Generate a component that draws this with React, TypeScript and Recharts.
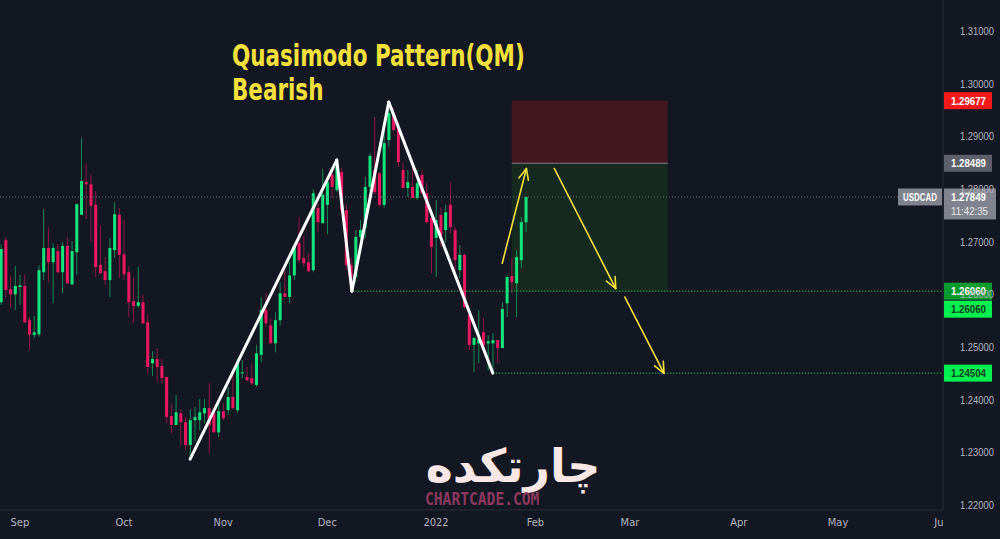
import React from "react";
import {
  ComposedChart,
  Bar,
  XAxis,
  YAxis,
  ReferenceLine,
  ReferenceArea,
} from "recharts";

const BG = "#131722";
const UP = "#12e57d";
const DOWN = "#ec1761";
const YELLOW = "#f6e13c";
const AXIS_TEXT = "#b2b5be";
const SANS = "'Liberation Sans', Arial, sans-serif";
const COND = "'DejaVu Sans Condensed', 'DejaVu Sans', sans-serif";

// daily candles, bar index -4 (26 Aug 2021) .. 107 (28 Jan 2022)
const FIRST_INDEX = -4;
const opens = [
  1.2585, 1.2703, 1.2610, 1.2600, 1.2614, 1.2616, 1.2551, 1.2523, 1.2524, 1.2642,
  1.2688, 1.2661, 1.2682, 1.2642, 1.2692, 1.2619, 1.2680, 1.2751, 1.2813, 1.2809,
  1.2770, 1.2656, 1.2644, 1.2627, 1.2684, 1.2751, 1.2676, 1.2642, 1.2587, 1.2578,
  1.2585, 1.2547, 1.2469, 1.2477, 1.2464, 1.2443, 1.2369, 1.2352, 1.2374, 1.2357,
  1.2314, 1.2361, 1.2361, 1.2374, 1.2384, 1.2374, 1.2338, 1.2378, 1.2380, 1.2405,
  1.2380, 1.2450, 1.2443, 1.2441, 1.2428, 1.2485, 1.2570, 1.2541, 1.2507, 1.2551,
  1.2602, 1.2595, 1.2636, 1.2697, 1.2669, 1.2661, 1.2646, 1.2764, 1.2735, 1.2770,
  1.2827, 1.2798, 1.2832, 1.2760, 1.2656, 1.2633, 1.2709, 1.2726, 1.2804, 1.2836,
  1.2830, 1.2770, 1.2893, 1.2944, 1.2918, 1.2836, 1.2802, 1.2804, 1.2783, 1.2827,
  1.2792, 1.2745, 1.2707, 1.2751, 1.2722, 1.2770, 1.2722, 1.2646, 1.2675, 1.2561,
  1.2504, 1.2507, 1.2528, 1.2507, 1.2507, 1.2513, 1.2498, 1.2583, 1.2635, 1.2621,
  1.2665, 1.2737,
];
const highs = [
  1.2695, 1.2709, 1.2635, 1.2654, 1.2637, 1.2638, 1.2557, 1.2559, 1.2655, 1.2762,
  1.2728, 1.2697, 1.2695, 1.2699, 1.2709, 1.2701, 1.2773, 1.2897, 1.2849, 1.2827,
  1.2796, 1.2730, 1.2671, 1.2707, 1.2775, 1.2764, 1.2741, 1.2654, 1.2631, 1.2652,
  1.2599, 1.2562, 1.2492, 1.2498, 1.2477, 1.2443, 1.2393, 1.2409, 1.2382, 1.2367,
  1.2382, 1.2386, 1.2401, 1.2401, 1.2431, 1.2386, 1.2391, 1.2393, 1.2424, 1.2456,
  1.2479, 1.2475, 1.2462, 1.2469, 1.2504, 1.2595, 1.2604, 1.2555, 1.2566, 1.2623,
  1.2646, 1.2661, 1.2697, 1.2747, 1.2711, 1.2678, 1.2800, 1.2773, 1.2838, 1.2821,
  1.2836, 1.2855, 1.2840, 1.2770, 1.2669, 1.2722, 1.2741, 1.2823, 1.2868, 1.2937,
  1.2832, 1.2927, 1.2965, 1.2954, 1.2927, 1.2851, 1.2836, 1.2845, 1.2836, 1.2836,
  1.2811, 1.2751, 1.2779, 1.2766, 1.2770, 1.2813, 1.2728, 1.2694, 1.2678, 1.2570,
  1.2519, 1.2570, 1.2555, 1.2522, 1.2526, 1.2513, 1.2585, 1.2636, 1.2669, 1.2684,
  1.2747, 1.2785,
];
const lows = [
  1.2580, 1.2593, 1.2576, 1.2570, 1.2580, 1.2545, 1.2494, 1.2517, 1.2519, 1.2627,
  1.2623, 1.2583, 1.2640, 1.2602, 1.2621, 1.2618, 1.2637, 1.2751, 1.2743, 1.2699,
  1.2633, 1.2640, 1.2618, 1.2595, 1.2669, 1.2631, 1.2627, 1.2557, 1.2545, 1.2574,
  1.2543, 1.2450, 1.2445, 1.2433, 1.2431, 1.2355, 1.2336, 1.2352, 1.2312, 1.2304,
  1.2287, 1.2321, 1.2342, 1.2355, 1.2298, 1.2338, 1.2329, 1.2361, 1.2371, 1.2382,
  1.2376, 1.2441, 1.2435, 1.2428, 1.2424, 1.2471, 1.2538, 1.2507, 1.2490, 1.2541,
  1.2595, 1.2583, 1.2627, 1.2659, 1.2652, 1.2642, 1.2642, 1.2718, 1.2735, 1.2714,
  1.2783, 1.2794, 1.2751, 1.2646, 1.2604, 1.2623, 1.2703, 1.2707, 1.2794, 1.2790,
  1.2766, 1.2764, 1.2880, 1.2908, 1.2842, 1.2802, 1.2785, 1.2783, 1.2779, 1.2792,
  1.2735, 1.2640, 1.2633, 1.2690, 1.2699, 1.2716, 1.2640, 1.2631, 1.2574, 1.2494,
  1.2452, 1.2469, 1.2488, 1.2456, 1.2450, 1.2469, 1.2498, 1.2557, 1.2602, 1.2557,
  1.2650, 1.2718,
];
const closes = [
  1.2686, 1.2608, 1.2600, 1.2616, 1.2617, 1.2547, 1.2524, 1.2528, 1.2646, 1.2688,
  1.2661, 1.2688, 1.2642, 1.2692, 1.2621, 1.2682, 1.2771, 1.2815, 1.2809, 1.2768,
  1.2652, 1.2640, 1.2627, 1.2688, 1.2752, 1.2675, 1.2638, 1.2585, 1.2578, 1.2585,
  1.2545, 1.2462, 1.2477, 1.2462, 1.2441, 1.2367, 1.2352, 1.2376, 1.2357, 1.2314,
  1.2361, 1.2367, 1.2376, 1.2384, 1.2352, 1.2338, 1.2378, 1.2365, 1.2405, 1.2384,
  1.2469, 1.2452, 1.2437, 1.2431, 1.2488, 1.2570, 1.2545, 1.2507, 1.2551, 1.2602,
  1.2595, 1.2636, 1.2693, 1.2665, 1.2659, 1.2644, 1.2792, 1.2737, 1.2789, 1.2813,
  1.2804, 1.2842, 1.2760, 1.2656, 1.2633, 1.2709, 1.2722, 1.2804, 1.2863, 1.2794,
  1.2770, 1.2887, 1.2944, 1.2912, 1.2851, 1.2802, 1.2813, 1.2783, 1.2811, 1.2792,
  1.2737, 1.2690, 1.2741, 1.2713, 1.2756, 1.2728, 1.2665, 1.2675, 1.2576, 1.2504,
  1.2517, 1.2515, 1.2504, 1.2511, 1.2513, 1.2498, 1.2572, 1.2633, 1.2623, 1.2671,
  1.2737, 1.2785,
];

const monthTicks = [0, 22, 43, 65, 88, 109, 129, 152, 173, 195];
const monthLabels = ["Sep", "Oct", "Nov", "Dec", "2022", "Feb", "Mar", "Apr", "May", "Jun"];
const priceTicks = [1.22, 1.23, 1.24, 1.25, 1.26, 1.27, 1.28, 1.29, 1.3, 1.31];

// QM swing points: [bar index, price]
const qmPoints: [number, number][] = [
  [36, 1.2287],
  [67, 1.2855],
  [70.2, 1.2606],
  [78, 1.2965],
  [100, 1.24504],
];

// yellow arrows: [fromIndex, fromPrice, toIndex, toPrice]
const arrows: [number, number, number, number][] = [
  [102, 1.2659, 107.1, 1.2839],
  [113, 1.2839, 126, 1.2611],
  [127.9, 1.2595, 136.2, 1.2450],
];

const lastPrice = 1.27849;
const entryPrice = 1.28489;
const stopPrice = 1.29677;
const targetPrice = 1.2606;
const secondTarget = 1.24504;
const positionStart = 104;
const positionEnd = 137;

const candles = opens.map((o, k) => ({
  i: FIRST_INDEX + k,
  open: o,
  high: highs[k],
  low: lows[k],
  close: closes[k],
}));

const X_DOMAIN: [number, number] = [-4.21, 195.2];
const Y_DOMAIN: [number, number] = [1.21905, 1.31589];

function Candle(props: any) {
  const { x, y, width, height, payload } = props;
  if (x == null || y == null) return null;
  const { open, close, high, low } = payload;
  const color = close >= open ? UP : DOWN;
  const top = Math.min(y, y + height);
  const h = Math.abs(height);
  const cx = x + width / 2;
  const k = high > low ? h / (high - low) : 0;
  const bTop = top + (high - Math.max(open, close)) * k;
  const bBot = top + (high - Math.min(open, close)) * k;
  return (
    <g>
      <line x1={cx} x2={cx} y1={top} y2={top + h} stroke={color} strokeOpacity={0.55} strokeWidth={1} />
      <rect x={cx - 1.5} y={bTop} width={3} height={Math.max(1, bBot - bTop)} fill={color} />
    </g>
  );
}

function Arrow(props: any) {
  const { x1, y1, x2, y2 } = props;
  const a = Math.atan2(y2 - y1, x2 - x1);
  const len = 12;
  const spread = 0.42;
  const p1 = `${x2 - len * Math.cos(a - spread)},${y2 - len * Math.sin(a - spread)}`;
  const p2 = `${x2 - len * Math.cos(a + spread)},${y2 - len * Math.sin(a + spread)}`;
  return (
    <g stroke={YELLOW} strokeWidth={1.6} fill="none" strokeLinecap="round" strokeLinejoin="round">
      <line x1={x1} y1={y1} x2={x2} y2={y2} />
      <polyline points={`${p1} ${x2},${y2} ${p2}`} />
    </g>
  );
}

const priceTag =
  (text: string, bg: string, fg: string, shift = 0) =>
  (p: any) => {
    const vb = p.viewBox;
    if (!vb) return null;
    const x = vb.x + vb.width + 1;
    const y = vb.y + shift;
    return (
      <g>
        <rect x={x} y={y - 8.5} width={48} height={17} fill={bg} />
        <text
          x={x + 7}
          y={y}
          dy="0.36em"
          fill={fg}
          fontSize={11}
          fontWeight={700}
          fontFamily={SANS}
          textLength={35}
          lengthAdjust="spacingAndGlyphs"
        >
          {text}
        </text>
      </g>
    );
  };

function LastPriceTag(p: any) {
  const vb = p.viewBox;
  if (!vb) return null;
  const x = vb.x + vb.width;
  const y = vb.y;
  return (
    <g fontFamily={SANS} fontSize={11}>
      <rect x={x - 45} y={y - 8.5} width={44} height={17} fill="#80838d" />
      <text x={x - 40} y={y} dy="0.36em" fill="#ffffff" fontWeight={700} textLength={34} lengthAdjust="spacingAndGlyphs">
        USDCAD
      </text>
      <rect x={x + 1} y={y - 8.5} width={52} height={31} fill="#80838d" />
      <text x={x + 8} y={y} dy="0.36em" fill="#ffffff" fontWeight={700} textLength={35} lengthAdjust="spacingAndGlyphs">
        {lastPrice.toFixed(5)}
      </text>
      <text x={x + 8} y={y + 14} dy="0.36em" fill="#e6e7ea" textLength={37} lengthAdjust="spacingAndGlyphs">
        11:42:35
      </text>
    </g>
  );
}

function PriceTick(props: any) {
  const { x, y, payload } = props;
  return (
    <text
      x={x + 9}
      y={y}
      dy="0.36em"
      fill={AXIS_TEXT}
      fontSize={11}
      fontFamily={SANS}
      textLength={34}
      lengthAdjust="spacingAndGlyphs"
    >
      {Number(payload.value).toFixed(5)}
    </text>
  );
}

function MonthTick(props: any) {
  const { x, y, payload, index } = props;
  return (
    <g>
      <defs>
        <clipPath id={`mclip${index}`}>
          <rect x={0} y={0} width={943} height={539} />
        </clipPath>
      </defs>
      <text
        x={x}
        y={y + 8}
        textAnchor="middle"
        fill={AXIS_TEXT}
        fontSize={11}
        fontFamily={COND}
        clipPath={`url(#mclip${index})`}
      >
        {monthLabels[monthTicks.indexOf(payload.value)]}
      </text>
    </g>
  );
}

export default function App() {
  return (
    <div
      style={{
        position: "fixed",
        left: 0,
        top: 0,
        width: 1000,
        height: 539,
        background: BG,
        overflow: "hidden",
      }}
    >
      <ComposedChart
        width={1000}
        height={539}
        data={candles}
        margin={{ top: 0, right: 0, left: 0, bottom: 0 }}
      >
        <XAxis
          dataKey="i"
          type="number"
          domain={X_DOMAIN}
          allowDataOverflow
          ticks={monthTicks}
          tick={<MonthTick />}
          tickLine={false}
          axisLine={{ stroke: "#2a2e39" }}
          height={29}
        />
        <YAxis
          orientation="right"
          type="number"
          domain={Y_DOMAIN}
          allowDataOverflow
          ticks={priceTicks}
          tick={<PriceTick />}
          tickLine={false}
          axisLine={{ stroke: "#2a2e39" }}
          width={57}
        />

        <ReferenceArea
          x1={positionStart}
          x2={positionEnd}
          y1={entryPrice}
          y2={stopPrice}
          fill="#431720"
          fillOpacity={1}
          stroke="none"
        />
        <ReferenceArea
          x1={positionStart}
          x2={positionEnd}
          y1={targetPrice}
          y2={entryPrice}
          fill="#16291f"
          fillOpacity={1}
          stroke="none"
        />
        <ReferenceLine
          segment={[
            { x: positionStart, y: entryPrice },
            { x: positionEnd, y: entryPrice },
          ]}
          stroke="#7d7f88"
          strokeWidth={1}
        />

        <ReferenceLine y={lastPrice} stroke="#6a6d78" strokeDasharray="1 2" label={LastPriceTag} />
        <ReferenceLine
          segment={[
            { x: qmPoints[2][0], y: targetPrice },
            { x: X_DOMAIN[1], y: targetPrice },
          ]}
          stroke="#22b04b"
          strokeDasharray="1.5 1.5"
          label={priceTag(targetPrice.toFixed(5), "#0b9a2f", "#ffffff")}
        />
        <ReferenceLine
          segment={[
            { x: qmPoints[4][0], y: secondTarget },
            { x: X_DOMAIN[1], y: secondTarget },
          ]}
          stroke="#22b04b"
          strokeDasharray="1.5 1.5"
          label={priceTag(secondTarget.toFixed(5), "#00f050", "#0b3d1a")}
        />
        <ReferenceLine y={stopPrice} stroke="none" label={priceTag(stopPrice.toFixed(5), "#f51a1a", "#ffffff")} />
        <ReferenceLine y={entryPrice} stroke="none" label={priceTag(entryPrice.toFixed(5), "#5d606b", "#ffffff")} />
        <ReferenceLine y={targetPrice} stroke="none" label={priceTag(targetPrice.toFixed(5), "#00f050", "#0b3d1a", 18)} />

        <Bar
          dataKey={(d: any) => [d.low, d.high]}
          barSize={3}
          shape={<Candle />}
          isAnimationActive={false}
        />

        {qmPoints.slice(1).map((pt, k) => (
          <ReferenceLine
            key={`qm${k}`}
            segment={[
              { x: qmPoints[k][0], y: qmPoints[k][1] },
              { x: pt[0], y: pt[1] },
            ]}
            stroke="#ffffff"
            strokeWidth={3}
            strokeLinecap="round"
            ifOverflow="visible"
          />
        ))}
        {arrows.map((a, k) => (
          <ReferenceLine
            key={`ar${k}`}
            segment={[
              { x: a[0], y: a[1] },
              { x: a[2], y: a[3] },
            ]}
            shape={Arrow}
            ifOverflow="visible"
          />
        ))}
      </ComposedChart>

      <div
        style={{
          position: "absolute",
          left: 232,
          top: 38,
          color: YELLOW,
          fontFamily: COND,
          fontWeight: 700,
          fontSize: 31,
          lineHeight: "34px",
          transform: "scaleX(0.77)",
          transformOrigin: "0 0",
          whiteSpace: "nowrap",
        }}
      >
        Quasimodo Pattern(QM)
        <br />
        Bearish
      </div>

      <div
        style={{
          position: "absolute",
          left: 424,
          top: 436,
          width: 178,
          textAlign: "center",
          direction: "rtl",
          color: "#fbe8e6",
          fontFamily: "'DejaVu Sans', sans-serif",
          fontWeight: 700,
          fontSize: 46,
          lineHeight: "60px",
        }}
      >
        چارتکده
      </div>
      <div
        style={{
          position: "absolute",
          left: 425,
          top: 490,
          color: "#8a3a5f",
          fontFamily: "'DejaVu Sans Mono', monospace",
          fontWeight: 700,
          fontSize: 17,
          lineHeight: "18px",
          transform: "scaleX(0.86)",
          transformOrigin: "0 0",
          whiteSpace: "nowrap",
        }}
      >
        CHARTCADE.COM
      </div>
    </div>
  );
}
